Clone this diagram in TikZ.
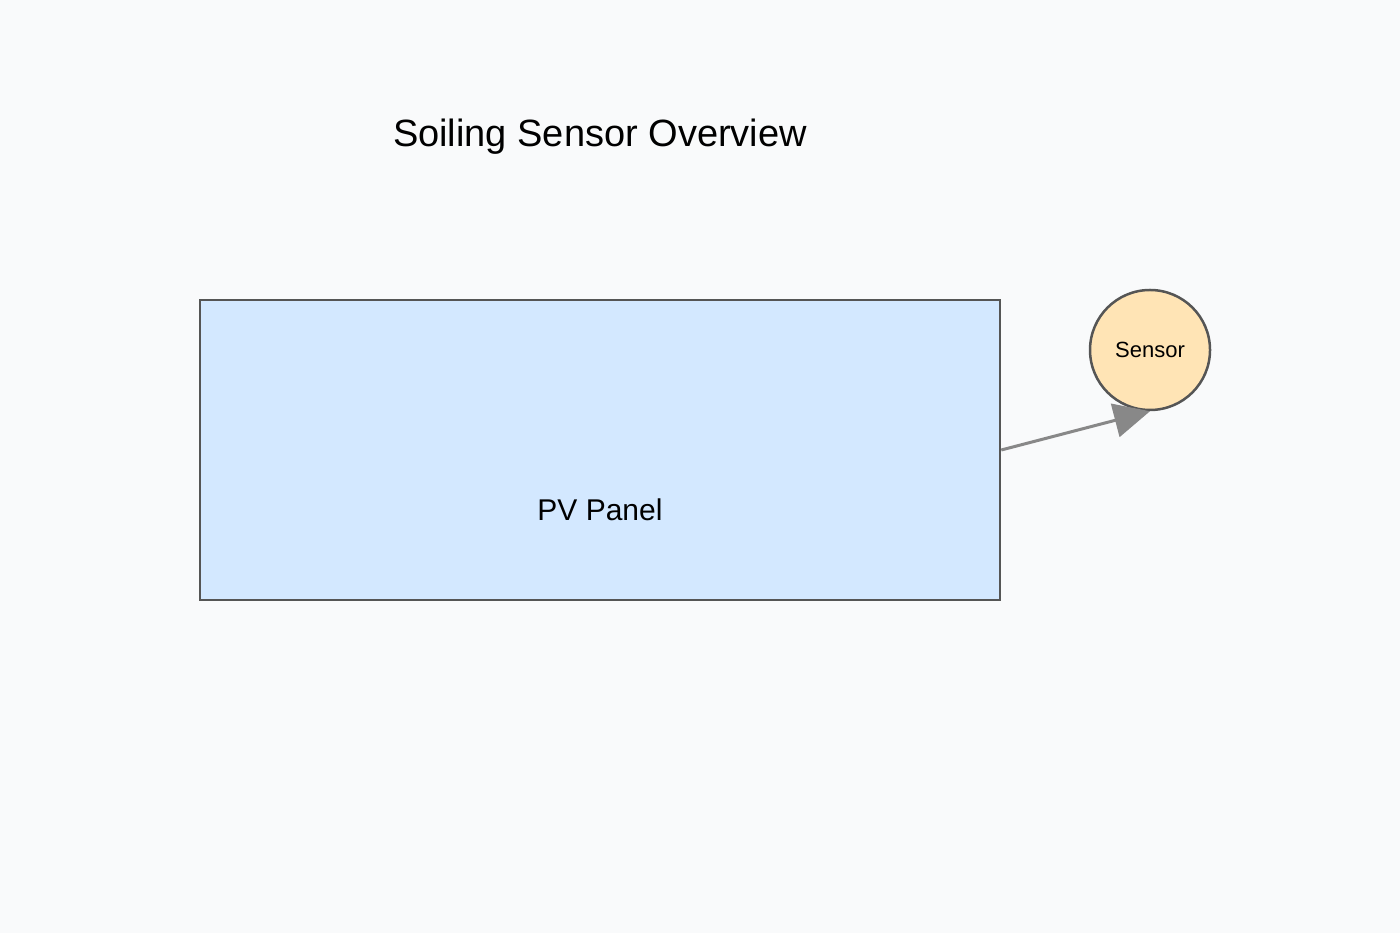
\documentclass[tikz,border=0pt]{standalone}
\usepackage{fontspec}
\setmainfont{Liberation Sans}
\usetikzlibrary{positioning,arrows.meta}
\definecolor{pageBg}{RGB}{249,250,251}
\definecolor{panelFill}{RGB}{211,232,255}
\definecolor{sensorFill}{RGB}{255,228,181}
\definecolor{lineGray}{RGB}{85,85,85}
\definecolor{arrowGray}{RGB}{136,136,136}
\tikzset{
		panelStyle/.style = {draw=lineGray, line width=2.5bp, fill=panelFill, minimum width=800bp, minimum height=300bp, inner sep=0},
		sensorStyle/.style = {circle, draw=lineGray, line width=2.5bp, fill=sensorFill, minimum size=120bp, inner sep=0, font=\fontsize{22bp}{26bp}\selectfont},
		linkStyle/.style = {draw=arrowGray, line width=3bp, -{Triangle[length=36bp,width=34bp]}},
		x=1bp, y=1bp
}
\begin{document}
\begin{tikzpicture}
  \fill[pageBg] (0,0) rectangle (1400,933);
  \useasboundingbox (0,0) rectangle (1400,933);

  % title
  \node (title) at (600,796) {\fontsize{38bp}{44bp}\selectfont Soiling Sensor Overview};

  % panel and sensor
  \node [panelStyle] (panel) at (600,483) {};
  \node (panelText) at (600,423) {\fontsize{30bp}{36bp}\selectfont PV Panel};
  \node [sensorStyle] (sensor) at (1150,583) {Sensor};

  \draw [linkStyle] (panel.east) -- (sensor.south);
\end{tikzpicture}
\end{document}
